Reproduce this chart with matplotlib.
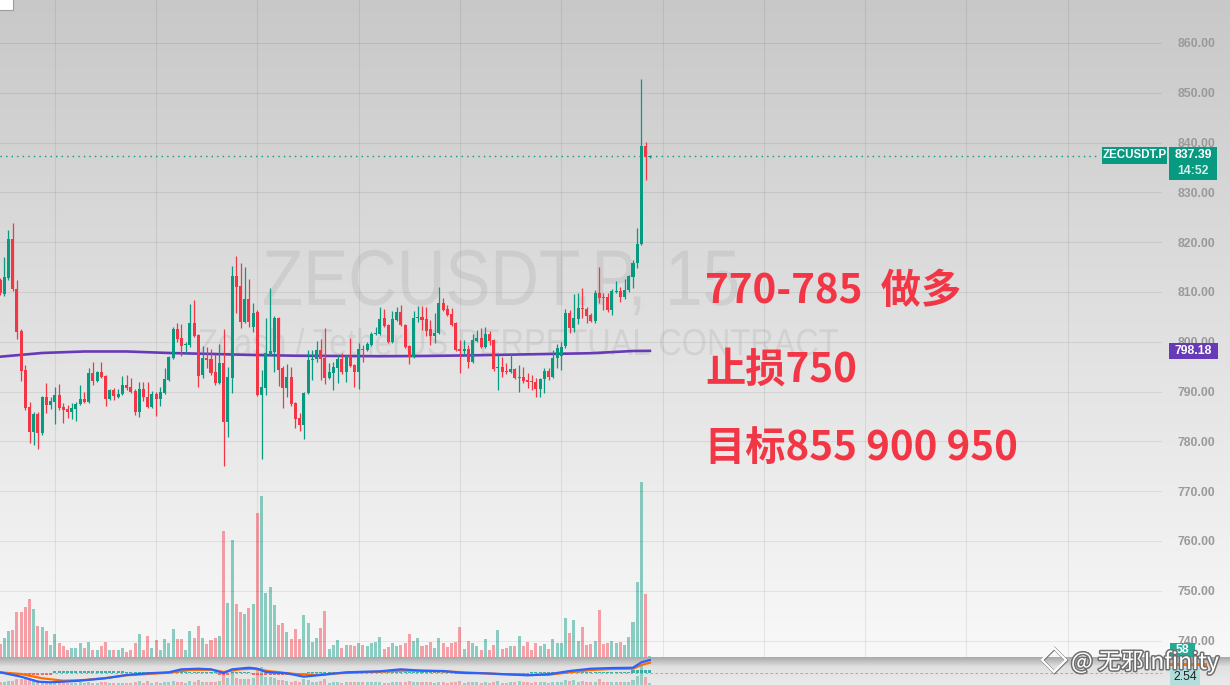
import matplotlib
matplotlib.use("Agg")
import numpy as np
import matplotlib.pyplot as plt
import matplotlib.patheffects as pe
from matplotlib.patches import Rectangle, PathPatch
from matplotlib.lines import Line2D
from matplotlib.textpath import TextPath
from matplotlib.font_manager import FontProperties
from matplotlib.transforms import Affine2D

# ZECUSDT.P 15m candles
opens = [812.35, 809.55, 812.75, 820.55, 810.55, 802.15, 794.35, 786.95, 781.95, 785.55,
         781.75, 788.95, 787.35, 787.95, 789.35, 786.95, 786.55, 785.95, 786.55, 787.55,
         788.55, 787.95, 793.75, 792.15, 793.95, 793.15, 788.55, 790.35, 788.95, 789.55,
         791.35, 790.95, 790.15, 785.95, 790.55, 788.95, 786.95, 789.55, 788.55, 789.75,
         792.35, 796.75, 802.55, 800.75, 799.35, 799.35, 803.75, 801.35, 793.35, 796.75,
         796.55, 793.95, 791.75, 795.75, 783.95, 792.75, 813.15, 811.15, 803.95, 808.55,
         802.95, 805.95, 789.35, 790.75, 797.35, 797.95, 804.75, 794.75, 790.75, 792.95,
         787.75, 784.75, 783.35, 789.75, 796.35, 796.55, 798.35, 796.75, 792.75, 793.75,
         794.75, 796.55, 793.95, 797.15, 795.35, 793.95, 798.55, 798.35, 799.35, 801.55,
         801.55, 804.75, 803.35, 799.95, 804.35, 805.95, 803.35, 799.15, 796.95, 804.75,
         804.95, 804.55, 802.55, 801.15, 801.75, 807.75, 806.55, 805.55, 803.75, 798.55,
         798.15, 798.55, 795.95, 800.15, 800.75, 798.95, 801.55, 800.35, 794.75, 794.95,
         794.15, 793.95, 794.55, 792.75, 792.95, 792.35, 792.15, 791.95, 790.55, 792.55,
         794.15, 792.95, 796.75, 797.15, 799.15, 805.75, 802.75, 804.55, 806.75, 806.55,
         805.35, 804.15, 809.75, 808.95, 808.95, 806.35, 809.95, 810.15, 808.95, 810.35,
         812.95, 815.75, 819.55, 839.30, 837.10]
highs = [812.75, 816.95, 822.35, 823.75, 812.35, 802.55, 795.35, 787.95, 785.95, 785.95,
         789.15, 791.75, 788.95, 790.95, 791.55, 787.75, 787.35, 787.75, 787.95, 791.35,
         789.95, 794.75, 795.95, 794.15, 795.95, 793.35, 790.55, 790.75, 790.55, 793.15,
         793.35, 792.75, 790.55, 791.95, 791.95, 791.95, 790.15, 789.95, 790.95, 794.75,
         797.15, 802.95, 803.75, 803.55, 799.95, 807.55, 808.35, 801.55, 799.15, 798.95,
         798.55, 797.55, 799.55, 802.55, 794.95, 815.15, 817.15, 815.75, 814.95, 812.55,
         807.75, 806.35, 794.35, 804.75, 810.75, 805.15, 804.95, 795.15, 795.55, 794.95,
         787.95, 785.75, 789.95, 798.35, 798.35, 800.15, 800.55, 802.75, 795.75, 795.95,
         797.35, 797.75, 797.35, 800.75, 795.55, 799.75, 799.35, 799.95, 801.95, 802.95,
         806.95, 806.55, 803.55, 806.15, 806.95, 807.35, 803.55, 799.35, 806.15, 807.15,
         807.15, 806.95, 804.35, 805.75, 810.95, 808.75, 807.35, 806.75, 803.95, 800.35,
         800.35, 799.35, 801.55, 802.35, 802.75, 802.95, 802.15, 800.55, 797.35, 796.95,
         795.75, 797.75, 794.75, 795.35, 794.95, 793.75, 793.35, 792.75, 792.75, 794.75,
         794.75, 798.35, 799.55, 799.95, 806.55, 806.35, 809.55, 809.75, 810.75, 806.95,
         805.75, 810.35, 814.95, 809.75, 809.75, 810.55, 812.15, 810.95, 812.55, 813.35,
         816.35, 822.75, 852.70, 840.10, 837.60]
lows = [809.35, 809.15, 812.35, 810.15, 800.55, 792.15, 786.35, 779.75, 779.35, 778.55,
        781.35, 785.75, 786.55, 783.55, 786.35, 783.75, 784.75, 784.55, 784.15, 787.35,
        787.75, 787.75, 791.35, 791.95, 792.75, 787.15, 788.35, 788.35, 788.75, 789.35,
        790.35, 789.75, 785.35, 784.95, 788.15, 786.75, 786.75, 785.15, 787.15, 789.55,
        792.15, 796.55, 799.95, 797.15, 797.55, 798.95, 800.95, 790.95, 792.75, 794.75,
        793.35, 791.35, 791.55, 775.15, 780.95, 789.75, 805.75, 802.75, 803.75, 802.95,
        801.95, 789.15, 776.55, 789.35, 797.35, 793.95, 791.15, 786.75, 788.95, 787.15,
        782.75, 782.15, 780.55, 789.55, 792.35, 795.95, 792.35, 791.55, 792.55, 790.35,
        791.75, 793.55, 791.95, 794.95, 790.95, 790.55, 795.95, 798.15, 799.15, 801.35,
        801.35, 802.95, 799.75, 799.75, 804.15, 803.15, 798.75, 795.55, 796.75, 803.95,
        802.35, 801.15, 799.35, 799.75, 801.55, 806.15, 805.15, 803.15, 798.15, 793.75,
        797.35, 794.75, 795.75, 799.95, 798.75, 798.75, 799.35, 794.15, 790.35, 792.95,
        793.55, 793.75, 792.55, 789.95, 791.75, 790.75, 790.35, 788.95, 788.95, 789.75,
        792.35, 792.75, 794.75, 794.35, 798.75, 801.75, 801.95, 803.55, 804.75, 803.75,
        803.95, 803.75, 807.75, 806.35, 805.95, 805.35, 809.75, 807.95, 808.55, 809.95,
        810.75, 814.75, 819.35, 832.50, 836.90]
closes = [809.75, 812.95, 820.55, 810.55, 801.95, 794.15, 786.75, 781.95, 785.55, 781.75,
          788.95, 787.35, 788.15, 789.35, 786.75, 786.35, 785.95, 786.75, 787.55, 788.55,
          787.95, 793.75, 792.15, 793.95, 792.95, 788.55, 790.35, 789.15, 789.55, 791.35,
          790.75, 789.95, 785.95, 790.55, 788.95, 786.95, 789.55, 788.55, 789.95, 792.55,
          796.95, 802.55, 800.55, 799.15, 799.55, 803.75, 801.15, 793.15, 796.75, 796.35,
          793.75, 791.75, 795.75, 783.95, 792.95, 813.15, 810.95, 803.95, 808.55, 803.95,
          805.75, 789.35, 790.95, 797.75, 798.15, 804.75, 794.35, 790.75, 792.95, 787.55,
          784.55, 783.35, 789.75, 796.35, 796.55, 798.35, 796.55, 792.75, 793.95, 794.95,
          796.55, 793.95, 797.15, 795.15, 793.95, 798.55, 798.35, 799.55, 801.55, 801.75,
          804.55, 803.15, 799.95, 804.55, 805.95, 803.35, 798.95, 796.95, 804.75, 804.95,
          804.35, 802.15, 801.15, 801.75, 807.75, 806.35, 805.35, 803.35, 798.35, 798.15,
          798.55, 795.95, 800.35, 800.75, 798.95, 801.55, 800.15, 794.55, 794.95, 793.95,
          793.95, 794.55, 792.75, 792.95, 792.15, 791.95, 791.95, 790.55, 792.55, 794.15,
          792.95, 796.75, 798.75, 798.95, 805.75, 802.75, 804.75, 806.75, 806.55, 805.15,
          804.15, 809.75, 808.75, 808.75, 806.35, 810.15, 810.15, 808.95, 810.35, 813.15,
          815.75, 819.55, 839.30, 837.10, 837.39]
volumes = [13, 19, 26, 27, 45, 45, 50, 58, 48, 31,
           30, 26, 12, 23, 14, 11, 7, 9, 9, 14,
           9, 15, 7, 7, 11, 15, 7, 7, 7, 9,
           5, 7, 14, 23, 7, 21, 9, 17, 7, 18,
           14, 28, 18, 18, 7, 26, 19, 31, 19, 13,
           17, 19, 21, 127, 54, 118, 53, 45, 43, 49,
           53, 145, 162, 64, 70, 52, 32, 34, 25, 18,
           28, 18, 42, 34, 15, 19, 29, 46, 8, 12,
           17, 9, 12, 12, 11, 14, 12, 11, 14, 15,
           20, 8, 10, 14, 11, 12, 14, 23, 16, 19,
           11, 12, 15, 9, 19, 14, 10, 14, 15, 30,
           8, 16, 14, 11, 7, 18, 7, 12, 27, 8,
           9, 11, 11, 21, 11, 15, 7, 14, 11, 13,
           8, 18, 14, 14, 39, 24, 37, 16, 30, 12,
           13, 16, 47, 13, 14, 16, 14, 15, 12, 20,
           35, 75, 176, 63, 1]

# long moving average, read at a few bars
ma_bars = [0, 10, 20, 30, 40, 50, 60, 70, 80, 90, 100, 110, 120, 130, 140, 150, 154]
ma_vals = [797.0, 797.75, 798.05, 798.05, 797.75, 797.55, 797.35, 797.2, 797.15,
           797.1, 797.15, 797.25, 797.4, 797.55, 797.7, 798.15, 798.18]

# MACD pane (cut off at the bottom)
macd_bars = [0, 5, 9, 12, 18, 25, 30, 35, 40, 43, 47, 50, 53, 55, 59, 61, 63, 68, 72, 76,
             82, 90, 95, 100, 105, 110, 115, 120, 125, 130, 135, 140, 145, 150, 152, 154]
macd_vals = [0.7, -3.7, -8.7, -9.3, -8.0, -5.3, -2.0, -0.3, 0.7, 3.7, 4.3, 3.7, 0.0, 3.7,
             5.3, 4.3, 1.0, -0.3, -3.7, -2.0, 0.7, 1.7, 3.7, 2.3, 2.0, 0.0, -0.3, -1.3,
             -2.3, -1.3, 2.0, 4.3, 5.0, 5.3, 10.7, 13.0]
sig_bars = [0, 5, 10, 15, 20, 25, 30, 35, 40, 45, 50, 53, 57, 60, 64, 70, 75, 80, 88, 95,
            100, 105, 112, 118, 125, 130, 135, 140, 145, 150, 152, 154]
sig_vals = [0.7, -1.0, -5.3, -7.7, -7.0, -5.0, -2.3, -1.0, 0.3, 3.0, 3.3, 1.0, 3.7, 4.3,
            1.7, -1.0, -2.0, -0.3, 1.0, 2.3, 2.3, 1.7, 0.3, -1.0, -2.0, -1.7, 0.7, 3.0,
            4.0, 4.3, 8.0, 10.3]
hist_spans = [(0, 4, 0.5), (4, 13, -2.0), (13, 30, 1.8), (30, 52, 1.0), (52, 55, -1.5),
              (55, 60, 1.5), (60, 73, -1.8), (73, 90, 1.3), (90, 108, 0.8),
              (108, 126, -1.0), (126, 150, 1.5), (150, 155, 3.5)]

price_ticks = [740, 750, 760, 770, 780, 790, 800, 810, 820, 830, 840, 850, 860]
grid_bars = [13, 37, 61, 85, 109, 133, 157, 181, 205, 229, 253]
last_price = 837.39
ma_last = 798.18
symbol = "ZECUSDT.P"
countdown = "14:52"
title_mark = "ZECUSDT.P, 15"
desc_mark = "Zcash / TetherUS PERPETUAL CONTRACT"
notes = ["770-785  做多", "止损750", "目标855 900 950"]

UP = "#089981"
DOWN = "#f23645"
W, H = 1230, 685
CJK = ["Noto Sans CJK SC", "DejaVu Sans"]
SANS = "Liberation Sans"


def rect(x0, y0, x1, y1):
    # pixel box (y from top) -> figure fraction
    return [x0 / W, 1 - y1 / H, (x1 - x0) / W, (y1 - y0) / H]


def fx(x):
    return x / W


def fy(y):
    return 1 - y / H


def box(fig, x0, y0, x1, y1, color):
    fig.patches.append(Rectangle((fx(x0), fy(y1)), (x1 - x0) / W, (y1 - y0) / H,
                                 transform=fig.transFigure, facecolor=color,
                                 edgecolor="none", zorder=5))


def narrow_text(ax, s, x, y, size, squeeze):
    # condensed watermark text, drawn as a path in pixel space
    tp = TextPath((0, 0), s, size=size, prop=FontProperties(family=SANS))
    tr = Affine2D().scale(squeeze, 1).translate(x, H - y)
    patch = PathPatch(tp, transform=tr, facecolor="#7d7d7d", edgecolor="none",
                      alpha=0.15, zorder=0.6, clip_on=False)
    ax.add_artist(patch)


def main():
    plt.rcParams["font.family"] = ["DejaVu Sans"]
    fig = plt.figure(figsize=(W / 100, H / 100), dpi=100)

    o = np.array(opens)
    h = np.array(highs)
    l = np.array(lows)
    c = np.array(closes)
    bars = np.arange(len(o))
    up = c >= o
    colors = np.where(up, UP, DOWN)
    xlim = (0, 1162 / 4.22)

    # background gradient
    bg = fig.add_axes(rect(0, 0, W, 657))
    grad = np.linspace(0.785, 0.975, 256)[:, None, None] * np.ones((1, 2, 3))
    bg.imshow(grad, aspect="auto", extent=[0, 1, 0, 1])
    bg.axis("off")

    band = fig.add_axes(rect(0, 657, W, 666))
    grad2 = np.linspace(0.64, 0.86, 32)[:, None, None] * np.ones((1, 2, 3))
    band.imshow(grad2, aspect="auto", extent=[0, 1, 0, 1])
    band.axis("off")

    pane = fig.add_axes(rect(0, 666, W, H))
    grad3 = np.linspace(0.88, 0.92, 32)[:, None, None] * np.ones((1, 2, 3))
    pane.imshow(grad3, aspect="auto", extent=[0, 1, 0, 1])
    pane.axis("off")

    # volume
    axv = fig.add_axes(rect(0, 0, 1162, 657))
    axv.patch.set_visible(False)
    axv.bar(bars, volumes, width=0.72, color=colors, alpha=0.45, linewidth=0)
    axv.set_xlim(*xlim)
    axv.set_ylim(0, 660)
    axv.axis("off")

    # price
    ax = fig.add_axes(rect(0, 0, 1162, 657))
    ax.patch.set_visible(False)
    ax.set_xlim(*xlim)
    ax.set_ylim(736.70, 868.63)
    ax.set_axisbelow(True)
    for s in ax.spines.values():
        s.set_visible(False)
    ax.set_xticks(grid_bars)
    ax.set_xticklabels([])
    ax.yaxis.tick_right()
    ax.set_yticks(price_ticks)
    ax.set_yticklabels([f"{t:.2f}" for t in price_ticks], family=SANS, fontweight="bold")
    ax.tick_params(axis="both", length=0)
    ax.tick_params(axis="y", pad=11.5, labelsize=8.8, labelcolor="#9a9a9a")
    ax.grid(True, color="black", alpha=0.07, lw=0.8)

    narrow_text(ax, title_mark, 262, 305, 79, 0.853)
    narrow_text(ax, desc_mark, 198, 355, 37.5, 0.866)

    ax.plot(ma_bars, ma_vals, color="#673ab7", lw=1.9, zorder=1.5)
    ax.vlines(bars, l, h, colors=colors, lw=0.9, zorder=2)
    ax.bar(bars, np.maximum(np.abs(c - o), 0.25), bottom=np.minimum(o, c), width=0.72,
           color=colors, linewidth=0, zorder=3)
    ax.axhline(last_price, xmin=0, xmax=1100 / 1162, color=UP, lw=1,
               linestyle=(0, (1, 3)), zorder=1)

    # MACD pane
    axm = fig.add_axes(rect(0, 665, 1162, H))
    axm.patch.set_visible(False)
    axm.set_xlim(*xlim)
    axm.set_ylim(-12, 8)
    axm.axis("off")
    axm.bar(bars, np.array(volumes) * 0.1 + 1.5, bottom=-12, width=0.72,
            color=colors, alpha=0.35, linewidth=0)
    for a, b, v in hist_spans:
        axm.bar(np.arange(a, b), v, width=0.72, color="#26a69a" if v > 0 else "#ef5350",
                linewidth=0, alpha=0.85)
    axm.axhline(0, color="#9e9e9e", lw=0.6, linestyle=(0, (3, 3)))
    axm.plot(sig_bars, sig_vals, color="#ff6d00", lw=1.6, clip_on=False)
    axm.plot(macd_bars, macd_vals, color="#2962ff", lw=1.6, clip_on=False)

    # price tags
    box(fig, 1102, 147, 1167, 164, UP)
    fig.text(fx(1134.5), fy(155.5), symbol, ha="center", va="center", color="white",
             fontsize=8.3, fontweight="bold", family=SANS, zorder=6)
    box(fig, 1169, 147, 1217, 180, UP)
    fig.text(fx(1193), fy(155.5), f"{last_price:.2f}", ha="center", va="center",
             color="white", fontsize=8.8, fontweight="bold", family=SANS, zorder=6)
    fig.text(fx(1193), fy(171), countdown, ha="center", va="center",
             color="#d5eee8", fontsize=8.8, fontweight="bold", family=SANS, zorder=6)
    box(fig, 1169, 343, 1218, 359, "#673ab7")
    fig.text(fx(1193.5), fy(351), f"{ma_last:.2f}", ha="center", va="center",
             color="white", fontsize=8.8, fontweight="bold", family=SANS, zorder=6)
    box(fig, 1170, 643, 1195, 657, "#22ab94")
    fig.text(fx(1182.5), fy(650), "58", ha="center", va="center", color="white",
             fontsize=8.8, fontweight="bold", family=SANS, zorder=6)
    fig.add_artist(Line2D([fx(1170), fx(1205)], [fy(664), fy(664)], color="#ff6d00",
                          lw=2.2, transform=fig.transFigure, zorder=6))
    box(fig, 1170, 668, 1200, 685, "#b2dfdb")
    fig.text(fx(1185), fy(676.5), "2.54", ha="center", va="center", color="#222222",
             fontsize=8.8, family=SANS, zorder=6)

    # top-left legend stub
    fig.patches.append(Rectangle((fx(-2), fy(10)), 15 / W, 12 / H, transform=fig.transFigure,
                                 facecolor="white", edgecolor="#9e9e9e", lw=0.8, zorder=5))

    # trade notes
    for (txt, y) in zip(notes, [303, 382, 460]):
        fig.text(fx(705), fy(y), txt, family=CJK, fontsize=29, fontweight="bold",
                 color=DOWN, va="baseline", zorder=7)

    # watermark
    halo = [pe.withStroke(linewidth=2.2, foreground="#6f6f6f")]
    fig.add_artist(Line2D([fx(1054)], [fy(660)], marker="D", markersize=12,
                          markerfacecolor="none", markeredgecolor="white",
                          markeredgewidth=1.6, transform=fig.transFigure, zorder=8,
                          path_effects=halo))
    fig.text(fx(1071), fy(669), "@ 无邪Infinity", family=CJK, fontsize=16.5,
             color="white", va="baseline", zorder=8, path_effects=halo)

    fig.savefig("out.png", dpi=100)


if __name__ == "__main__":
    main()
